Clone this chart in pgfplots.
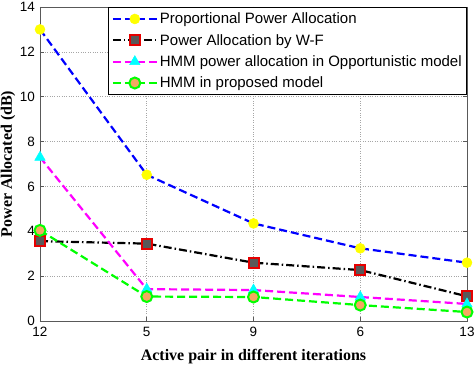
\documentclass[border=0pt]{standalone}
\usepackage{pgfplots}
\pgfplotsset{compat=1.18}
\usepackage{fontspec}
\setmainfont{Liberation Sans}
\newfontfamily\timesfont{Liberation Serif}
\definecolor{sandy}{rgb}{0.96,0.66,0.38}
\definecolor{boxgray}{rgb}{0.35,0.35,0.35}
\definecolor{mblue}{rgb}{0,0,1}
\definecolor{myellow}{rgb}{1,1,0}
\definecolor{mmag}{rgb}{1,0,1}
\definecolor{mcyan}{rgb}{0,1,1}
\definecolor{mgreen}{rgb}{0,1,0}
\definecolor{mred}{rgb}{0.9,0,0}
\begin{document}
\begin{tikzpicture}
\begin{axis}[
  scale only axis,
  width=427bp, height=314bp,
  xmin=0, xmax=4, ymin=0, ymax=14,
  xtick={0,1,2,3,4},
  xticklabels={12,5,9,6,13},
  ytick={0,2,4,6,8,10,12,14},
  tick align=inside,
  major tick length=4bp,
  tick style={boxgray, line width=0.6bp},
  axis line style={boxgray, line width=0.8bp},
  grid=major,
  grid style={gray!70, dotted, line width=0.6bp},
  /pgf/number format/assume math mode=true,
  ticklabel style={font=\fontsize{13.5bp}{16bp}\selectfont, inner sep=1bp},
  xticklabel style={yshift=-5bp},
  yticklabel style={xshift=-4bp},
  xlabel={\timesfont\bfseries Active pair in different iterations},
  ylabel={\timesfont\bfseries Power Allocated (dB)},
  label style={font=\fontsize{16bp}{19bp}\selectfont},
  xlabel style={at={(axis description cs:0.5,0)}, anchor=base, yshift=-39bp},
  ylabel style={at={(axis description cs:-0.0925,0.5)}, anchor=north, inner sep=0pt},
  legend style={at={(1,1)}, anchor=north east, draw=black, line width=0.6bp,
    font=\fontsize{15bp}{18bp}\selectfont, inner xsep=3bp, inner ysep=3.5bp, row sep=5bp},
  legend cell align=left,
  legend image code/.code={\draw[mark repeat=2,mark phase=2] plot coordinates {(0bp,0bp) (22bp,0bp) (44bp,0bp)};},
]
\addplot[mblue, line width=2.2bp, dash pattern=on 8bp off 4bp,
  mark=*, mark size=5bp, mark options={solid, fill=myellow, draw=myellow, line width=0.5bp}]
  coordinates {(0,13.0) (1,6.52) (2,4.35) (3,3.24) (4,2.6)};
\addlegendentry{Proportional Power Allocation}
\addplot[black, line width=2.2bp, dash pattern=on 8bp off 3bp on 1.5bp off 3bp,
  mark=square*, mark size=5bp, mark options={solid, fill=black!65, draw=mred, line width=2bp}]
  coordinates {(0,3.56) (1,3.45) (2,2.6) (3,2.27) (4,1.1)};
\addlegendentry{Power Allocation by W-F}
\addplot[mmag, line width=2.2bp, dash pattern=on 8bp off 4bp,
  mark=triangle*, mark size=6bp, mark options={solid, fill=mcyan, draw=mcyan, line width=0.5bp}]
  coordinates {(0,7.3) (1,1.42) (2,1.38) (3,1.07) (4,0.76)};
\addlegendentry{HMM power allocation in Opportunistic model}
\addplot[mgreen, line width=2.2bp, dash pattern=on 8bp off 4bp,
  mark=*, mark size=5.5bp, mark options={solid, fill=sandy, draw=mgreen, line width=2bp}]
  coordinates {(0,4.04) (1,1.09) (2,1.07) (3,0.71) (4,0.4)};
\addlegendentry{HMM in proposed model}
\end{axis}
\pgfresetboundingbox
\path[use as bounding box] ([xshift=-40bp,yshift=-45bp]current axis.south west) rectangle ([xshift=7bp,yshift=7bp]current axis.north east);
\end{tikzpicture}
\end{document}
